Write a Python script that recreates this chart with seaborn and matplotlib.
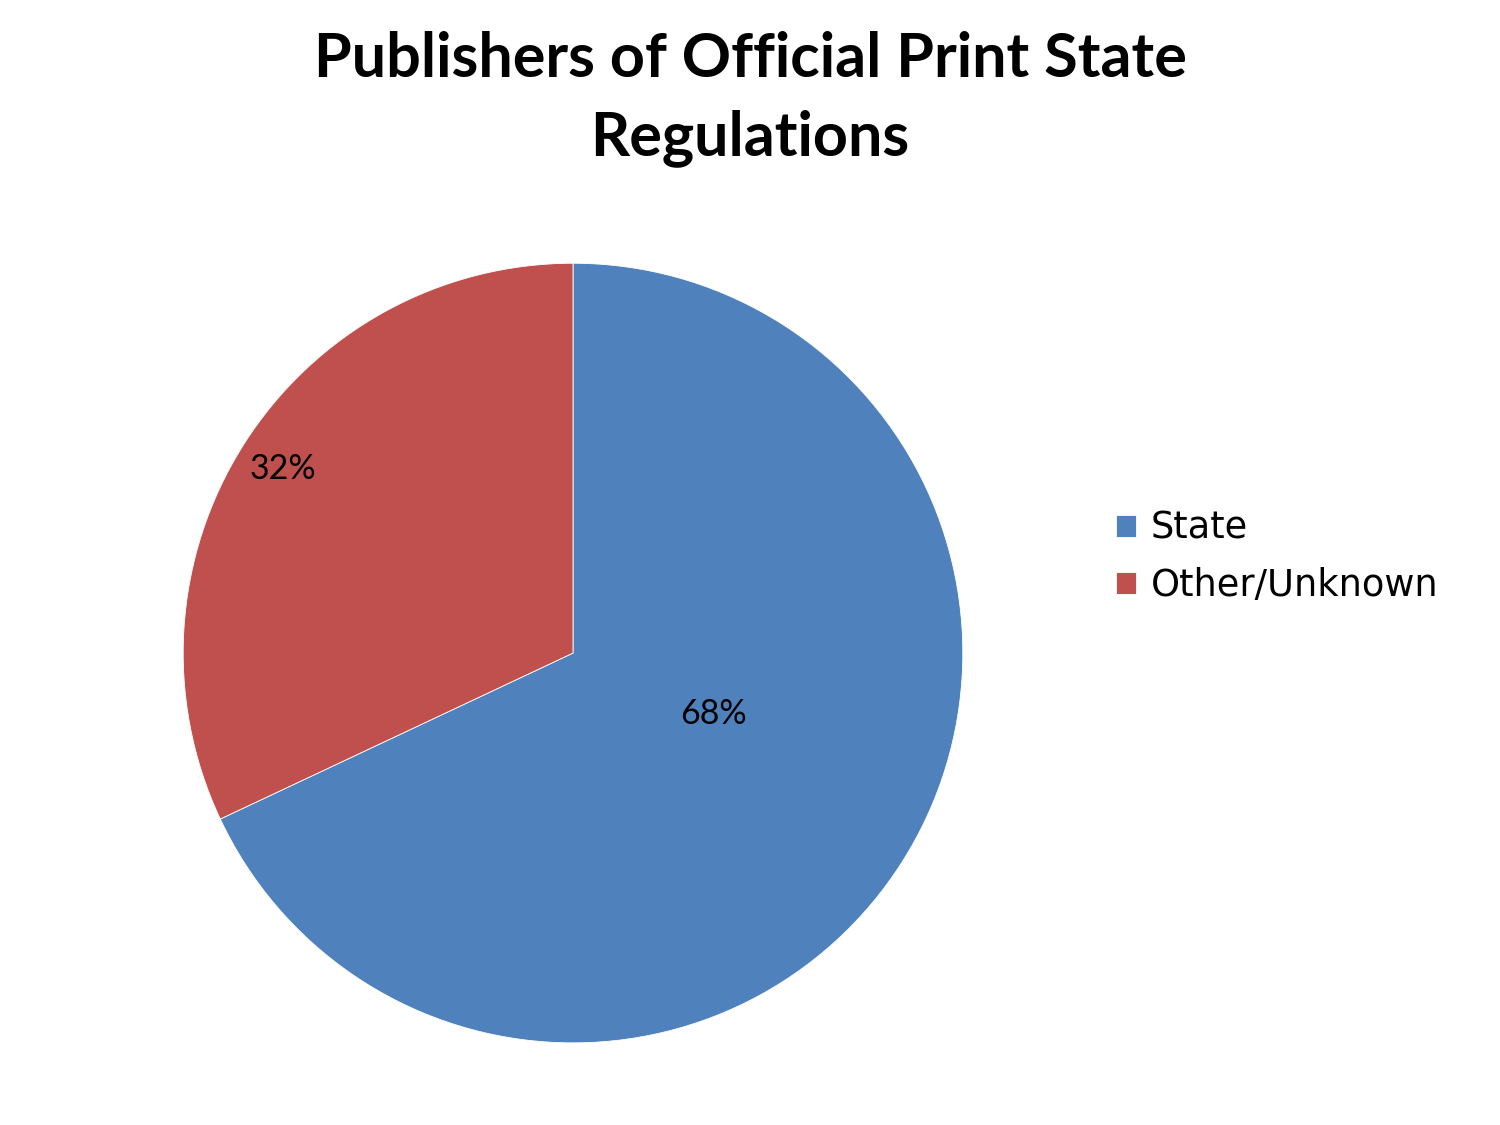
import matplotlib
matplotlib.use("Agg")
from matplotlib import pyplot as plt
import seaborn as sns

labels = ['State', 'Other/Unknown']
shares = [68, 32]
colors = ['#4F81BD', '#C0504D']

sns.set_theme(style='white')
plt.rcParams['font.family'] = ['Lato', 'DejaVu Sans']

fig = plt.figure(figsize=(15, 11.25), dpi=100)
ax = fig.add_axes([0.122, 0.073, 0.52, 0.693])
wedges, texts, autotexts = ax.pie(shares, colors=colors, startangle=90, counterclock=False,
                                  autopct='%1.0f%%', pctdistance=0.88,
                                  wedgeprops={'edgecolor': 'white', 'linewidth': 0.6},
                                  textprops={'fontsize': 24.5, 'color': 'black'})
# excel puts the big slice label nearer the centre
autotexts[0].set_position((0.36, -0.156))
ax.set_xlim(-1, 1)
ax.set_ylim(-1, 1)
ax.set_aspect('equal')

fig.text(0.5, 0.912, 'Publishers of Official Print State\nRegulations', fontsize=44,
         fontweight='bold', ha='center', va='center', linespacing=1.5, color='black')

fig.legend(wedges, labels, loc='center left', bbox_to_anchor=(0.722, 0.505), frameon=False,
           handlelength=0.55, handleheight=0.55, handletextpad=0.4, labelspacing=0.55,
           labelcolor='black', prop={'family': ['DejaVu Sans'], 'size': 26.5})

plt.savefig('out.png', dpi=100)
